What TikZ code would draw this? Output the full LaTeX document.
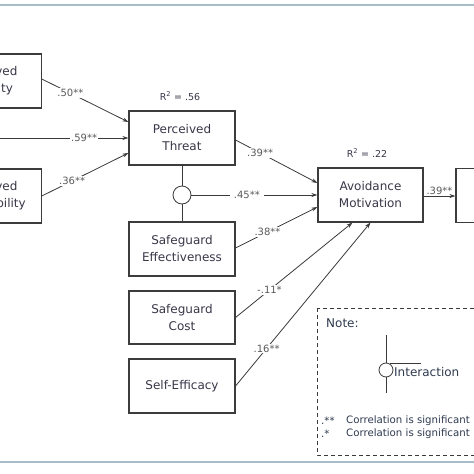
\documentclass[tikz,border=0pt]{standalone}
\usepackage{fontspec}
\setmainfont{DejaVu Sans}
\usetikzlibrary{arrows.meta,calc}
\definecolor{boxline}{HTML}{3C3C3C}
\definecolor{txt}{HTML}{3A3648}
\definecolor{lnc}{HTML}{3A3A3A}
\definecolor{labc}{HTML}{5A5A5A}
\definecolor{rule}{HTML}{A9BDC9}
\definecolor{notec}{HTML}{2E3A50}
\begin{document}
\begin{tikzpicture}[x=1pt,y=-1pt,
  box/.style={draw=boxline,line width=1.1pt,minimum width=106pt,minimum height=54pt,inner sep=0pt,align=center,font=\fontsize{12}{17}\selectfont,text=txt},
  conn/.style={draw=lnc,line width=0.8pt,-{Stealth[length=6pt,width=4pt]}},
  plain/.style={draw=lnc,line width=0.8pt},
  lab/.style={fill=white,inner sep=1pt,font=\fontsize{10}{12}\selectfont,text=labc},
  rsq/.style={font=\fontsize{9.5}{12}\selectfont,text=txt},
  notetext/.style={font=\fontsize{12}{14}\selectfont,text=notec,inner sep=0pt},
  small/.style={font=\fontsize{10.2}{12}\selectfont,text=notec,inner sep=0pt}]
\useasboundingbox (0,0) rectangle (474,474);
\clip (0,0) rectangle (474,474);
\fill[white] (0,0) rectangle (474,474);
% rules
\draw[rule,line width=2pt] (0,5) -- (474,5);
\draw[rule,line width=2pt] (0,462) -- (474,462);
% boxes
\node[box,minimum height=54pt] (sev) at (-11.75,81) {Perceived\\Severity};
\node[box] (vul) at (-11.75,196) {Perceived\\Vulnerability};
\coordinate (lin) at (-10,138);
\node[box] (PT) at (182,138) {Perceived\\Threat};
\node[box] (SE) at (182,249) {Safeguard\\Effectiveness};
\node[box,minimum height=53pt] (SC) at (182,317.5) {Safeguard\\Cost};
\node[box] (SEf) at (182,386) {Self-Efficacy};
\node[box,minimum width=105pt] (AM) at (370.5,195) {Avoidance\\Motivation};
\node[box] (AB) at (509,195.5) {};
\node[circle,draw=lnc,line width=0.8pt,minimum size=18pt,inner sep=0pt] (circ) at (182,195) {};
% R2
\node[rsq] (r1) at (180,96) {R\textsuperscript{2} = .56};
\node[rsq] (r2) at (367,153) {R\textsuperscript{2} = .22};
% connectors
\draw[conn] ($(sev.east)+(0,-2)$) -- node[lab,pos=0.33] {.50**} ($(PT.west)+(0,-16)$);
\draw[conn] (lin) -- node[lab,pos=0.68] {.59**} (PT.west);
\draw[conn] (vul.east) -- node[lab,pos=0.35] {.36**} ($(PT.west)+(0,15)$);
\draw[conn] ($(PT.east)+(0,2)$) -- node[lab,pos=0.3] {.39**} ($(AM.west)+(0,-12)$);
\draw[plain] (PT.south) -- (circ.north);
\draw[plain] (circ.south) -- (SE.north);
\draw[conn] (circ.east) -- node[lab,pos=0.44,inner xsep=4pt] {.45**} (AM.west);
\draw[conn] ($(SE.east)+(0,-1)$) -- node[lab,pos=0.39] {.38**} ($(AM.west)+(0,12)$);
\draw[conn] (SC.east) -- node[lab,pos=0.29] {-.11*} ($(AM.south)+(-18,0)$);
\draw[conn] (SEf.east) -- node[lab,pos=0.23] {.16**} (AM.south);
\draw[conn] ($(AM.east)+(0,1)$) -- node[lab,fill=none,above=0pt,pos=0.5] {.39**} ($(AB.west)+(0,0.5)$);
% note box
\draw[draw=lnc,line width=0.8pt,dash pattern=on 4pt off 3pt] (317,308) rectangle (490,455);
\node[notetext,anchor=west] (nt) at (326,323) {Note:};
\node[circle,draw=lnc,line width=0.8pt,minimum size=14pt,inner sep=0pt] (ic) at (386,370) {};
\coordinate (it) at (386,335);
\coordinate (ib) at (386,393);
\draw[plain,line width=1pt] (it) -- (ic.north);
\draw[plain,line width=1pt] (ic.south) -- (ib);
\draw[plain] (ic.60) -- ++(31,0);
\node[notetext,anchor=west] (itx) at (394,372) {Interaction};
\node[small,anchor=west] (s1) at (321,421) {.**};
\node[small,anchor=west] (s2) at (346,421) {Correlation is significant};
\node[small,anchor=west] (s3) at (321,434) {.*};
\node[small,anchor=west] (s4) at (346,434) {Correlation is significant};
\end{tikzpicture}
\end{document}
